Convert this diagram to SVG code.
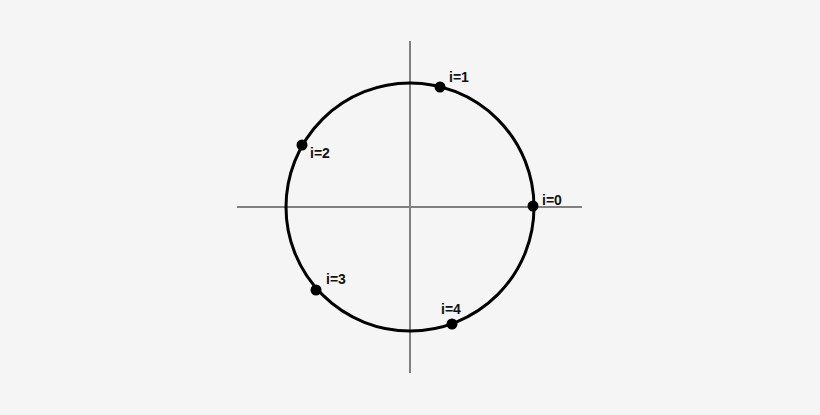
<svg xmlns="http://www.w3.org/2000/svg" width="820" height="415" viewBox="0 0 820 415">
<style>
.axis{stroke:#808080;stroke-width:2;fill:none}
.circ{stroke:#000;stroke-width:3;fill:none}
.pt{fill:#000}
.lbl{font-family:"Liberation Sans",Arial,sans-serif;font-weight:bold;font-size:14px;fill:#111}
</style>
<rect width="820" height="415" fill="#f5f5f5"/>
<g id="axes">
<line class="axis" x1="237" y1="207" x2="582" y2="207"/>
<line class="axis" x1="410" y1="41" x2="410" y2="373"/>
</g>
<g id="circle"><circle class="circ" cx="410" cy="207" r="124"/></g>
<g id="p0"><circle class="pt" cx="533" cy="206" r="5.5"/><text class="lbl" x="542" y="205">i=0</text></g>
<g id="p1"><circle class="pt" cx="440" cy="87" r="5.5"/><text class="lbl" x="449" y="82">i=1</text></g>
<g id="p2"><circle class="pt" cx="302" cy="145" r="5.5"/><text class="lbl" x="310" y="158">i=2</text></g>
<g id="p3"><circle class="pt" cx="316" cy="290" r="5.5"/><text class="lbl" x="326" y="284">i=3</text></g>
<g id="p4"><circle class="pt" cx="452" cy="324" r="5.5"/><text class="lbl" x="441" y="314">i=4</text></g>
</svg>
